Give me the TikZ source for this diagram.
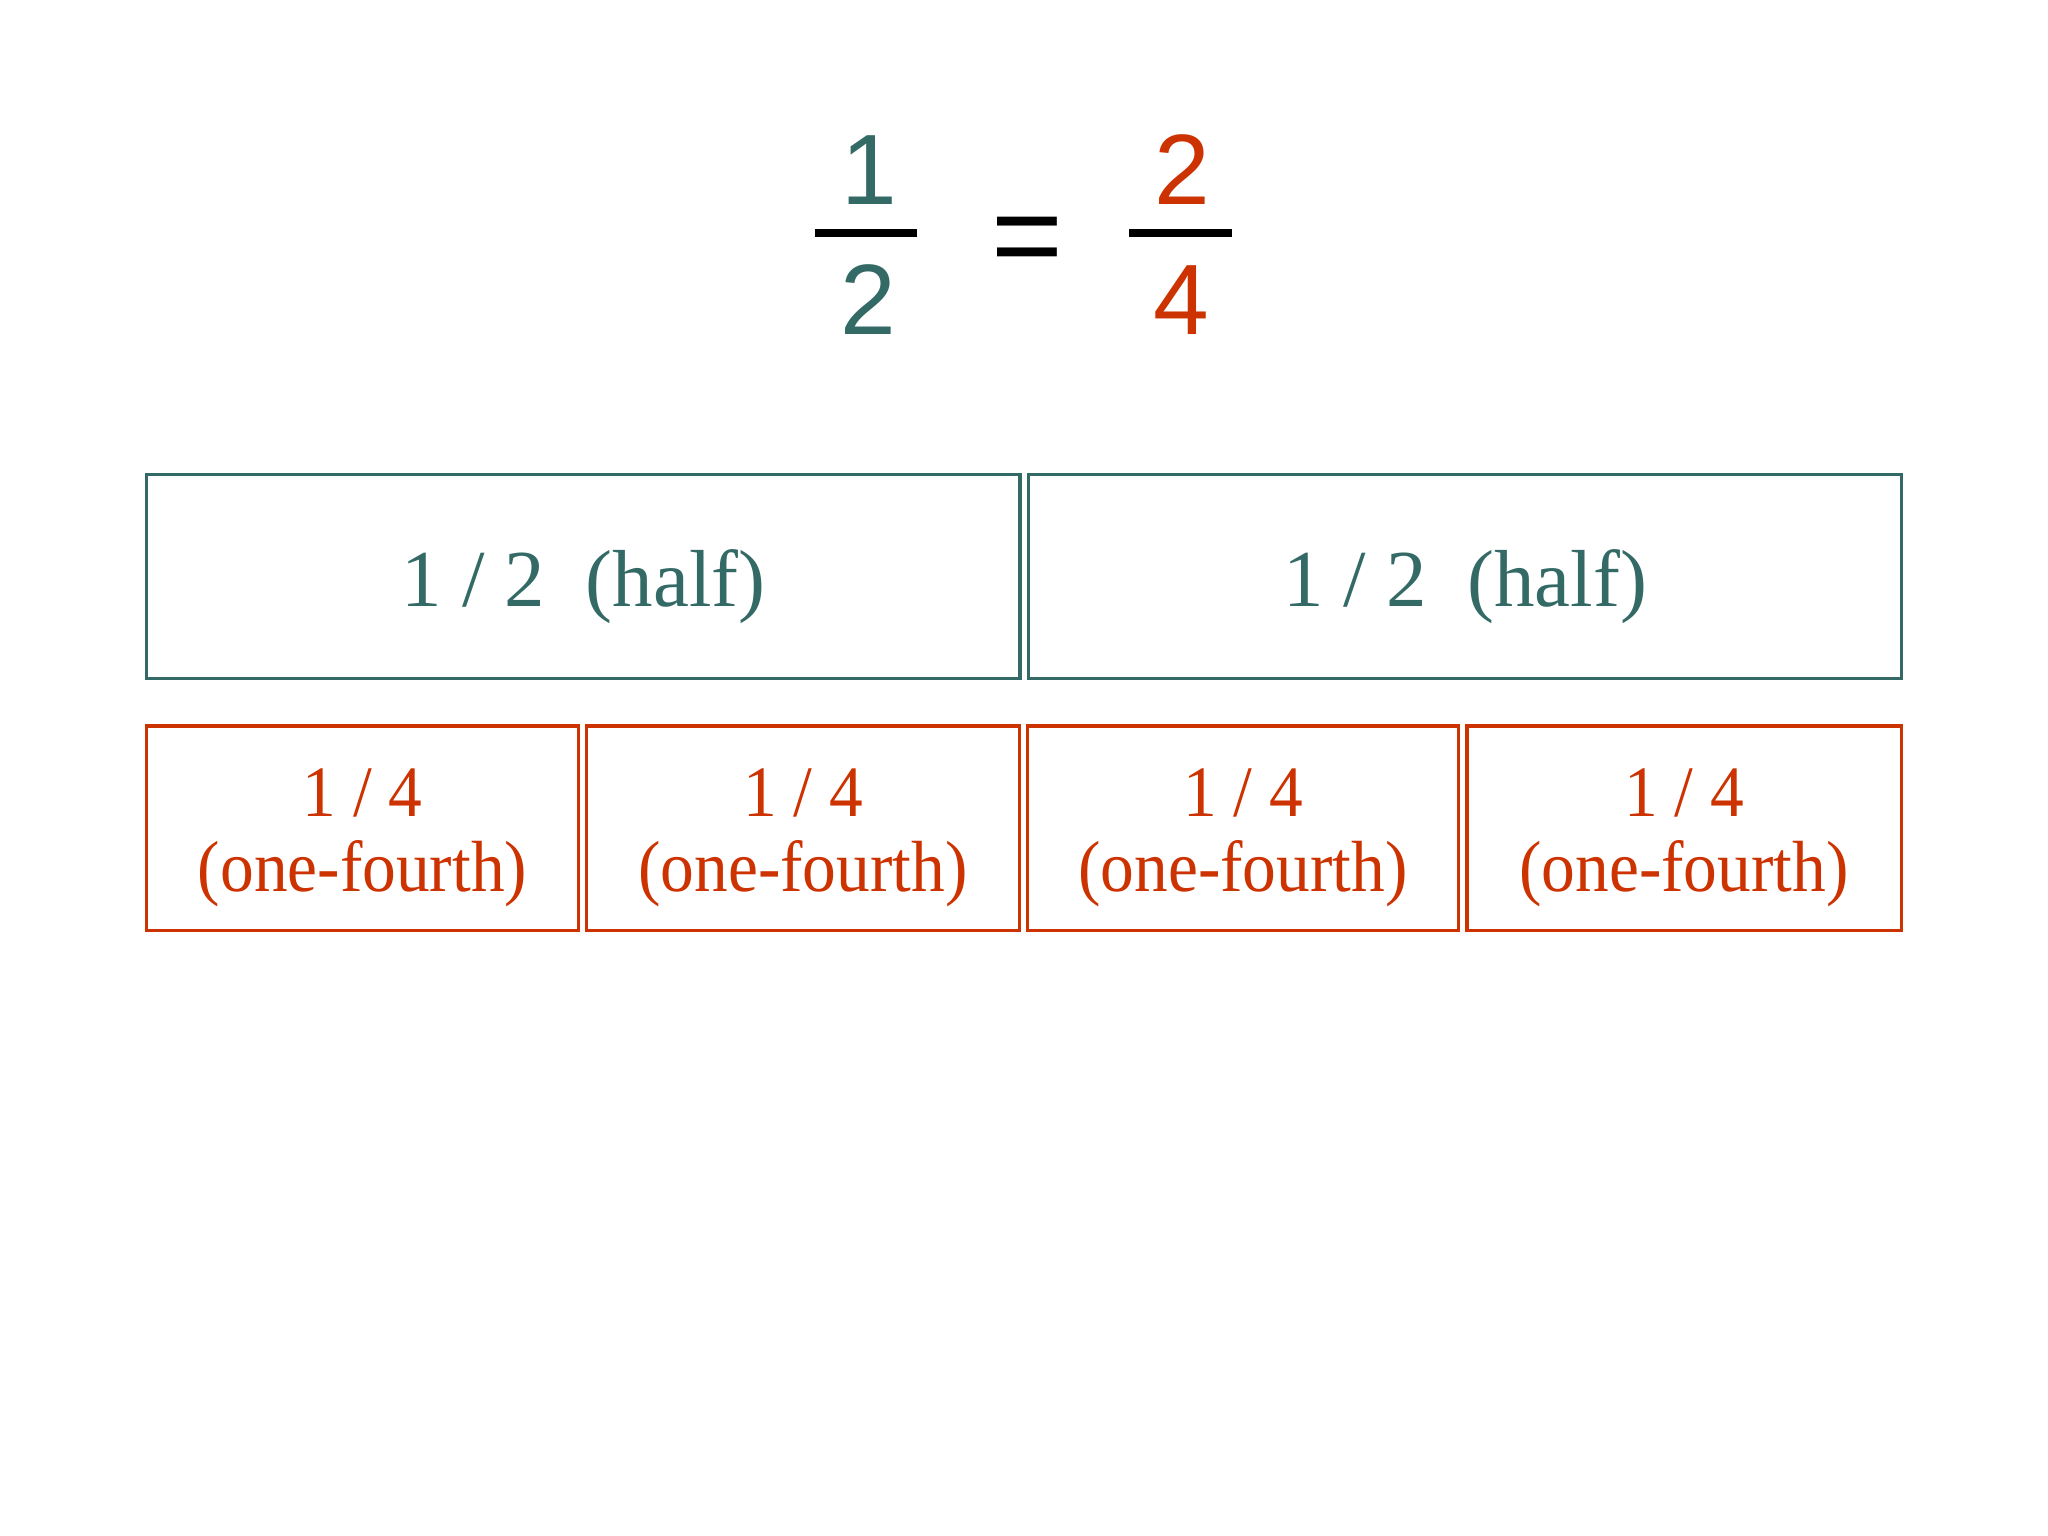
\documentclass[tikz,border=0pt]{standalone}
\usepackage{fontspec}
\setmainfont{Liberation Serif}
\newfontfamily\digitfont{Liberation Sans}
\newfontfamily\quarterfont[FakeStretch=0.93]{Liberation Serif}
\definecolor{halfteal}{RGB}{52,106,102}
\definecolor{quarterred}{RGB}{204,51,0}
\tikzset{
  halfbox/.style={draw=halfteal, line width=1pt},
  quarterbox/.style={draw=quarterred, line width=1pt},
  halflabel/.style={text=halfteal, anchor=base, inner sep=0pt, font=\fontsize{23pt}{27pt}\selectfont},
  quarterlabel/.style={text=quarterred, align=center, inner sep=0pt, font=\quarterfont\fontsize{20.6pt}{21.3pt}\selectfont},
  bigdigit/.style={anchor=base, inner sep=0pt, font=\digitfont\fontsize{28.45pt}{30pt}\selectfont},
  fracbar/.style={line width=2.3pt}
}
\begin{document}
\begin{tikzpicture}[x=0.01cm, y=-0.01cm]
\useasboundingbox (0,0) rectangle (2048,1535);
\fill[white] (0,0) rectangle (2048,1535);
% the equation on top
\node[bigdigit, text=halfteal] (numhalf) at (869,204.5) {1};
\node[bigdigit, text=halfteal] (denhalf) at (868,334) {2};
\draw[fracbar] (815,233) -- (917,233);
\node[bigdigit, font=\digitfont\fontsize{35pt}{36pt}\selectfont] (equals) at (1027.5,277) {=};
\node[bigdigit, text=quarterred] (numquarter) at (1182,204.5) {2};
\node[bigdigit, text=quarterred] (denquarter) at (1181,334) {4};
\draw[fracbar] (1129,233) -- (1232,233);
% halves
\draw[halfbox] (146.5,474.5) rectangle (1020,678.5);
\draw[halfbox] (1028.5,474.5) rectangle (1901.5,678.5);
\node[halflabel] (halfa) at (583.5,606) {1 / 2\ \ (half)};
\node[halflabel] (halfb) at (1465,606) {1 / 2\ \ (half)};
% quarters
\draw[quarterbox] (146.5,726) rectangle (578.5,930.5);
\draw[quarterbox] (586.5,726) rectangle (1019.5,930.5);
\draw[quarterbox] (1027.5,726) rectangle (1458.5,930.5);
\draw[quarterbox] (1467,726) rectangle (1901.5,930.5);
\node[quarterlabel] (quartera) at (362.5,838) {1 / 4\\(one-fourth)};
\node[quarterlabel] (quarterb) at (803,838) {1 / 4\\(one-fourth)};
\node[quarterlabel] (quarterc) at (1243,838) {1 / 4\\(one-fourth)};
\node[quarterlabel] (quarterd) at (1684,838) {1 / 4\\(one-fourth)};
\end{tikzpicture}
\end{document}
